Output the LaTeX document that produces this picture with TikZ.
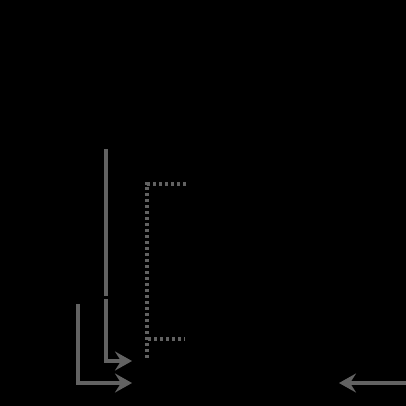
\documentclass[tikz,border=0pt]{standalone}
\usetikzlibrary{arrows.meta}
\definecolor{linegray}{RGB}{98,98,98}
\begin{document}
\begin{tikzpicture}[x=1pt,y=-1pt,
  wire/.style={draw=linegray,line width=3.5pt},
  arrowwire/.style={wire,-{Stealth[length=17pt,width=19pt,inset=6pt]}},
  dotwire/.style={draw=linegray,line width=3.2pt,dash pattern=on 3.2pt off 2.8pt}]
\fill[black] (0,0) rectangle (406,406);
\useasboundingbox (0,0) rectangle (406,406);
\coordinate (a1) at (106,149);
\coordinate (a2) at (106,296);
\coordinate (b1) at (106,299);
\coordinate (b2) at (106,361);
\coordinate (b3) at (132,361);
\coordinate (c1) at (78,304);
\coordinate (c2) at (78,383);
\coordinate (c3) at (132,383);
\coordinate (d1) at (406,383);
\coordinate (d2) at (339,383);
\coordinate (e1) at (186,184);
\coordinate (e2) at (147,184);
\coordinate (e3) at (147,358);
\coordinate (f1) at (148,339);
\coordinate (f2) at (185,339);
\draw[wire] (a1) -- (a2);
\draw[arrowwire] (b1) -- (b2) -- (b3);
\draw[arrowwire] (c1) -- (c2) -- (c3);
\draw[arrowwire] (d1) -- (d2);
\draw[dotwire] (e1) -- (e2) -- (e3);
\draw[dotwire] (f1) -- (f2);
\end{tikzpicture}
\end{document}
